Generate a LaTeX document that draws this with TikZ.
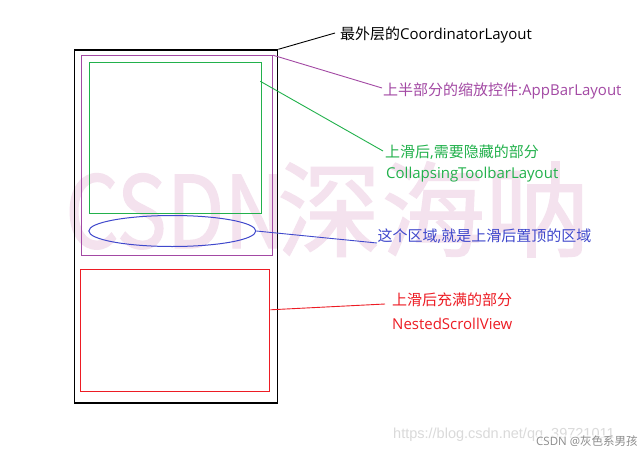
\documentclass[tikz,border=0pt]{standalone}
\usepackage{fontspec}
\setmainfont{Open Sans}
\newfontfamily\cjk{Noto Sans CJK SC}
\newfontfamily\wmcjk[FakeBold=1.2]{Noto Sans CJK SC}
\newfontfamily\wmfont{Liberation Sans}
\usetikzlibrary{shapes.geometric}
\definecolor{cpurple}{RGB}{163,73,164}
\definecolor{cgreen}{RGB}{34,177,76}
\definecolor{cblue}{RGB}{63,72,204}
\definecolor{cred}{RGB}{237,28,36}
\definecolor{cpink}{RGB}{244,226,238}
\definecolor{cwm}{RGB}{218,218,218}
\definecolor{cwm2}{RGB}{140,140,140}
\begin{document}
\begin{tikzpicture}[x=1pt,y=-1pt,
  font=\fontsize{15}{18}\selectfont,
  rbox/.style={draw, inner sep=0pt, anchor=north west, line width=#1},
  lbl/.style={anchor=base west, inner sep=0pt},
  conn/.style={line width=0.9pt}]
\useasboundingbox[fill=white] (0,0) rectangle (643,453);
% watermark
\node[lbl, text=cpink] (wm1) at (65,248) {\scalebox{0.84}[1]{\wmcjk\fontsize{100}{100}\selectfont CSDN}};
\node[lbl, text=cpink] (wm2) at (277,249) {\wmcjk\fontsize{104}{104}\selectfont 深海呐};
% boxes
\node[rbox=1.3pt, minimum width=203pt, minimum height=353pt] (outer) at (74,49.3) {};
\node[rbox=1pt, draw=cpurple, minimum width=191pt, minimum height=200pt] (appbar) at (81.3,55.3) {};
\node[rbox=1pt, draw=cgreen, minimum width=172pt, minimum height=151pt] (ctl) at (89.3,62.3) {};
\node[ellipse, draw=cblue, line width=1pt, inner sep=0pt, minimum width=167pt, minimum height=31pt] (bar) at (172.3,231) {};
\node[rbox=1pt, draw=cred, minimum width=189pt, minimum height=122pt] (nsv) at (80.3,269.3) {};
% labels
\node[lbl, text=black] (tcoord) at (340,39) {{\cjk 最外层的}CoordinatorLayout};
\node[lbl, text=cpurple] (tapp) at (383,95) {{\cjk 上半部分的缩放控件}:AppBarLayout};
\node[lbl, text=cgreen] (tctl1) at (385,157) {{\cjk 上滑后},{\cjk 需要隐藏的部分}};
\node[lbl, text=cgreen] (tctl2) at (386,178) {CollapsingToolbarLayout};
\node[lbl, text=cblue] (tbar) at (377.5,241) {{\cjk 这个区域},{\cjk 就是上滑后置顶的区域}};
\node[lbl, text=cred] (tnsv1) at (392,305) {\cjk 上滑后充满的部分};
\node[lbl, text=cred] (tnsv2) at (392,329) {NestedScrollView};
% connectors
\draw[conn, black] (outer.north east) -- ([xshift=-5pt,yshift=6pt]tcoord.base west);
\draw[conn, cpurple] (appbar.north east) -- ([xshift=-1pt,yshift=7pt]tapp.base west);
\draw[conn, cgreen] ([xshift=-2pt,yshift=-19pt]ctl.north east) -- ([xshift=-2pt,yshift=6pt]tctl1.base west);
\draw[conn, cblue] (bar.east) -- ([xshift=-0.5pt,yshift=-2pt]tbar.base west);
\draw[conn, cred] ([yshift=21pt]nsv.east) -- ([xshift=-7pt,yshift=1pt]tnsv1.base west);
% site watermark
\node[lbl, text=cwm] (url) at (393,438) {\wmfont\fontsize{14.5}{16}\selectfont https://blog.csdn.net/qq\_39721011};
\node[lbl, text=cwm2, fill=white, fill opacity=0.6, text opacity=1] (csdn) at (536,445) {\fontsize{11.5}{13}\selectfont CSDN @{\cjk 灰色系男孩}};
\end{tikzpicture}
\end{document}
